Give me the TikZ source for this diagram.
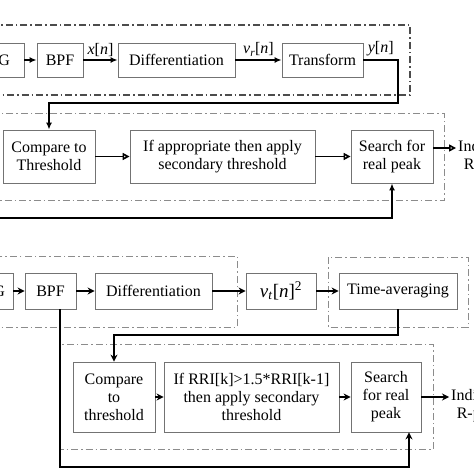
\documentclass[tikz,border=0pt]{standalone}
\usepackage{fontspec}
\setmainfont{Liberation Serif}
\usetikzlibrary{arrows.meta,calc}
\begin{document}
\begin{tikzpicture}[x=1pt,y=-1pt,
  blk/.style={draw=black!55,line width=0.8pt,rectangle,inner sep=0pt,font=\fontsize{16}{18}\selectfont,align=center},
  grp/.style={draw=black!45,line width=1pt,dash pattern=on 7pt off 3pt on 1.5pt off 3pt},
  grpdark/.style={draw=black!70,line width=1.3pt,dash pattern=on 7pt off 3pt on 1.5pt off 3pt},
  flow/.style={line width=1.6pt,-{Latex[length=7pt,width=6pt]}},
  flowo/.style={line width=1.6pt,-{Triangle[open,length=7pt,width=7pt]}},
  flowb/.style={line width=1.6pt,-{Stealth[length=7pt,width=7pt]}},
  lbl/.style={font=\fontsize{16}{18}\selectfont,inner sep=0pt},
  outtxt/.style={font=\fontsize{16}{18}\selectfont,align=center,inner sep=0pt}]
\useasboundingbox (0,0) rectangle (474,474);
\clip (0,0) rectangle (474,474);

% ---------- top diagram ----------
\draw[grpdark] (-10,25) rectangle (410,95);
\node[blk,minimum width=60pt,minimum height=34pt] (ecg1) at (-6,60) {ECG};
\node[blk,minimum width=46pt,minimum height=34pt] (bpf1) at (60,60) {BPF};
\node[blk,minimum width=117pt,minimum height=34pt] (dif1) at (176.5,60) {Differentiation};
\node[blk,minimum width=81pt,minimum height=34pt] (tra1) at (322.5,60) {Transform};
\draw[flow] (ecg1) -- (bpf1);
\draw[flow] (bpf1) -- node[lbl,above=3pt]{\textit{x}[\textit{n}]} (dif1);
\draw[flow] (dif1) -- node[lbl,above=3pt]{\textit{v}\textsubscript{\textit{r}}[\textit{n}]} (tra1);

\draw[grp] (-10,113) rectangle (444,200);
\node[blk,minimum width=92pt,minimum height=53pt] (cmp1) at (49,156.5) {Compare to\\Threshold};
\node[blk,minimum width=185pt,minimum height=53pt] (if1) at (222.5,156.5) {If appropriate then apply\\secondary threshold};
\node[blk,minimum width=82pt,minimum height=53pt] (srch1) at (392,156.5) {Search for\\real peak};
\draw[flowo] (cmp1) -- (if1);
\draw[flowo] (if1) -- (srch1);

\coordinate (yc) at (398,60);
\coordinate (yd) at (398,103);
\draw[flow] (tra1.east) -- node[lbl,above=3pt]{\textit{y}[\textit{n}]} (yc) -- (yd) -| (cmp1.north);

\node[outtxt] (out1) at (490,157) {Indices of\\R-peaks};
\coordinate (o1) at (0,148);
\draw[flowo] (srch1.east |- o1) -- ([xshift=-2pt]out1.west |- o1);

\coordinate (f1) at (-10,218);
\draw[flow] (f1) -| (srch1.south);

% ---------- bottom diagram ----------
\draw[grp] (-10,256) rectangle (237,327);
\draw[grp] (328,257) rectangle (468,327);
\node[blk,minimum width=48pt,minimum height=36pt] (ecg2) at (-11,291) {ECG};
\node[blk,minimum width=51pt,minimum height=36pt] (bpf2) at (50.5,291) {BPF};
\node[blk,minimum width=117pt,minimum height=36pt] (dif2) at (153.5,291) {Differentiation};
\node[blk,minimum width=70pt,minimum height=36pt,font=\fontsize{19}{20}\selectfont] (sq2) at (281,291) {\textit{v}\textsubscript{\textit{t}}[\textit{n}]\textsuperscript{2}};
\node[blk,minimum width=118pt,minimum height=36pt] (ta2) at (398,291) {Time-averaging};
\draw[flowb] (ecg2) -- (bpf2);
\draw[flowb] (bpf2) -- (dif2);
\draw[flowb] (dif2) -- (sq2);
\draw[flowb] (sq2) -- (ta2);

\draw[grp] (60,344) rectangle (433,449);
\node[blk,minimum width=82pt,minimum height=70pt] (cmp2) at (114,397) {Compare\\to\\threshold};
\node[blk,minimum width=175pt,minimum height=70pt] (if2) at (251.5,397) {If RRI[k]>1.5*RRI[k-1]\\then apply secondary\\threshold};
\node[blk,minimum width=70pt,minimum height=70pt] (srch2) at (386,397) {Search\\for real\\peak};
\draw[flowb] (cmp2) -- (if2);
\draw[flowb] (if2) -- (srch2);

\coordinate (t1) at (398,335);
\draw[flowb] (ta2.south) -- (t1) -| (cmp2.north);

\coordinate (b1) at (60,467);
\draw[flowb] ([xshift=9.5pt]bpf2.south) -- (b1) -| ([xshift=23pt]srch2.south);

\node[outtxt] (out2) at (483,406) {Indices of\\R-peaks};
\draw[flowb] (srch2.east) -- ([xshift=-2pt]out2.west |- srch2.east);
\end{tikzpicture}
\end{document}
